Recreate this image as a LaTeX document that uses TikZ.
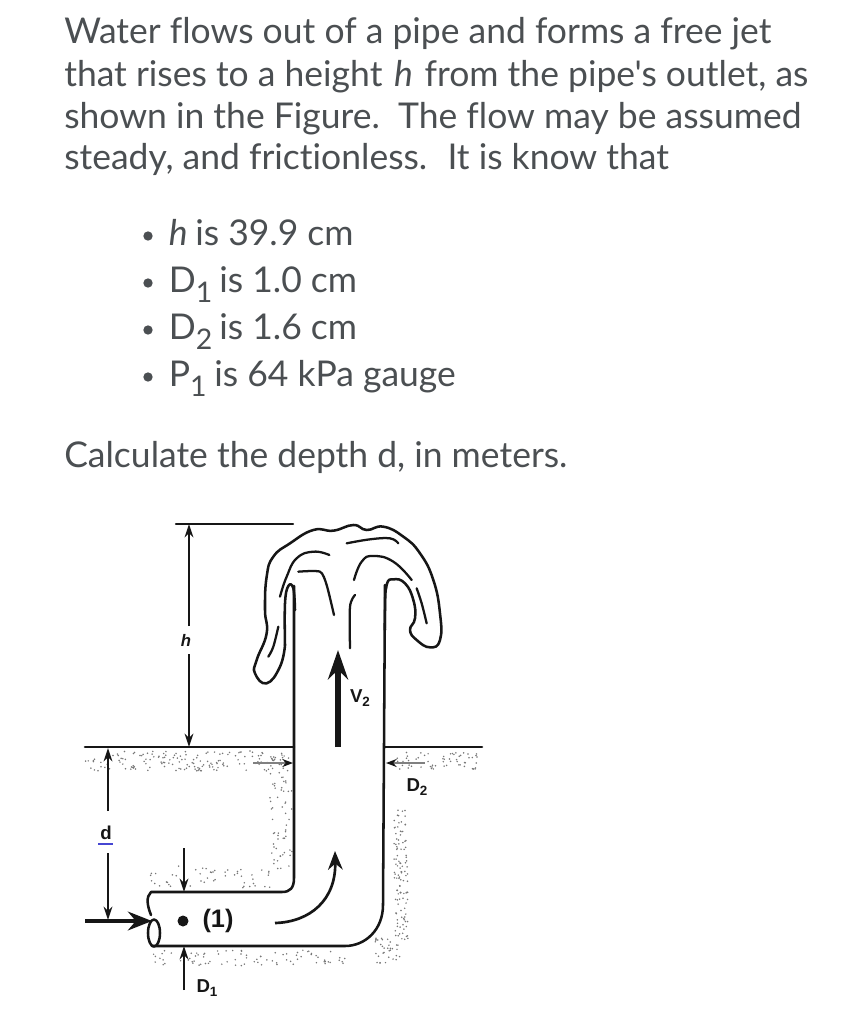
\documentclass[tikz,border=0pt]{standalone}
\usepackage{fontspec}
\setmainfont[Ligatures={NoCommon,TeXOff}]{Lato}
\newfontfamily\lblfont{Liberation Sans}
\usetikzlibrary{arrows.meta}
\definecolor{txt}{HTML}{4B4F52}
\definecolor{ink}{HTML}{161616}
\definecolor{dotc}{HTML}{777777}
\newcommand{\lowsub}[1]{\raisebox{-0.3em}{\scalebox{0.8}{#1}}}
\newcommand{\lblsub}[1]{\kern-0.3pt\raisebox{-0.22em}{\scalebox{0.72}{#1}}}
\tikzset{
  body/.style={anchor=base west,inner sep=0pt,text=txt,font=\fontsize{26.62pt}{30pt}\selectfont},
  bull/.style={circle,fill=txt,inner sep=0pt,minimum size=7pt},
  wall/.style={draw=ink,line width=1.9pt,line join=round,line cap=round},
  thin wall/.style={draw=ink,line width=1.7pt,line join=round,line cap=round},
  dim/.style={draw=ink,line width=1.4pt,-{Stealth[length=10pt,width=6.5pt]}},
  graydim/.style={draw=gray,line width=1.6pt,-{Stealth[length=8pt,width=6pt,color=ink]}},
  lbl/.style={font=\lblfont\bfseries\fontsize{14pt}{16pt}\selectfont,text=ink,inner sep=0pt},
}
\newcommand{\speckle}[5]{% x0 y0 w h n
  \foreach \i in {1,...,#5}{
    \pgfmathsetmacro{\px}{#1+rnd*#3}
    \pgfmathsetmacro{\py}{#2+rnd*#4}
    \fill[dotc] (\px,\py) circle[radius=0.85];
  }}
\begin{document}
\begin{tikzpicture}[x=0.75pt,y=-0.75pt]
\fill[white] (0,0) rectangle (848,1024);
\useasboundingbox (0,0) rectangle (848,1024);
% question text
\node[body] (l1) at (64,44) {Water flows out of a pipe and forms a free jet};
\node[body] (l2) at (64,86) {that rises to a height\kern2pt\ \textit{h}\kern2pt\ from the pipe's outlet, as};
\node[body] (l3) at (64,128) {shown in the Figure.\ \ The flow may be assumed};
\node[body] (l4) at (64,169) {steady, and frictionless.\ \ \kern1.5pt It is know that};
\node[bull] (b1) at (148,236) {};
\node[bull] (b2) at (148,283) {};
\node[bull] (b3) at (148,330) {};
\node[bull] (b4) at (148,377) {};
\node[body] (i1) at (168.5,245) {\textit{h}\kern-1pt\ is 39.9 cm};
\node[body] (i2) at (168.5,292) {D\lowsub{1}\kern-1.5pt\ is 1.0 cm};
\node[body] (i3) at (168.5,339) {D\lowsub{2}\kern-1.5pt\ is 1.6 cm};
\node[body] (i4) at (168.5,386) {P\lowsub{1}\kern-1pt\ is 64 kPa gauge};
\node[body] (q) at (64,467) {Calculate the depth d, in meters.};
% speckle
\pgfmathsetseed{4217}
\speckle{85}{751}{205}{20}{170}
\speckle{390}{751}{92}{18}{60}
\speckle{270}{770}{22}{100}{55}
\speckle{150}{866}{140}{22}{50}
\speckle{150}{950}{195}{16}{85}
\speckle{394}{810}{14}{130}{110}
\speckle{375}{935}{25}{30}{35}
% ground
\coordinate (gl) at (85,747);
\coordinate (glr) at (294,747);
\coordinate (grl) at (385,747);
\coordinate (gr) at (482,747);
\draw[wall] (gl) -- (glr);
\draw[wall] (grl) -- (gr);
% pipe
\draw[wall] (294,586) -- (294,878) .. controls (294,888) and (290,892) .. (282,892) -- (151,892) .. controls (146,897) and (147,905) .. (151,915);
\draw[wall] (385,585) -- (383,905) .. controls (383,930) and (365,946) .. (345,946) -- (152,946);
\draw[wall] (154,933) ellipse[x radius=6,y radius=13.5];
% jet (zoom coordinates)
\begin{scope}[shift={(230,510)},x=0.25pt,y=-0.25pt]
\draw[wall] plot[smooth,tension=0.8] coordinates {(165,405)(150,470)(110,520)(75,490)(80,450)(110,370)(105,300)(110,200)(130,140)(180,100)(250,60)(310,62)(370,45)(410,60)(460,50)(520,80)(570,130)(610,210)(630,310)(630,390)(600,412)(560,390)(540,360)(555,325)(550,270)(525,220)(490,208)(470,225)(465,300)(465,360)};
\draw[wall] plot[smooth,tension=0.7] coordinates {(165,405)(165,280)(175,228)(190,235)(195,300)};
\draw[thin wall] plot[smooth,tension=0.8] coordinates {(150,260)(170,200)(200,145)(250,125)(298,135)};
\draw[thin wall] plot[smooth,tension=0.4] coordinates {(205,185)(270,185)(290,225)(312,315)};
\draw[thin wall] plot[smooth,tension=0.7] coordinates {(350,100)(420,88)(480,85)(505,100)};
\draw[thin wall] plot[smooth,tension=0.8] coordinates {(372,210)(395,155)(430,138)(490,155)(545,210)};
\draw[thin wall] plot[smooth,tension=0.5] coordinates {(375,255)(360,290)(360,415)};
\draw[thin wall] plot[smooth,tension=0.6] coordinates {(560,235)(575,280)(590,340)};
\draw[thin wall] plot[smooth,tension=0.6] coordinates {(145,350)(130,410)(115,440)};
\end{scope}
% h dimension
\coordinate (ht) at (189,524);
\coordinate (htr) at (293,524);
\coordinate (hb) at (189,747);
\node[inner sep=0pt,font=\lblfont\itshape\bfseries\fontsize{12.5pt}{14pt}\selectfont,text=ink] (hl) at (186,640) {h};
\draw[thin wall] (176,524) -- (htr);
\draw[dim] (189,626) -- (ht);
\draw[dim] (189,654) -- (hb);
% d dimension
\node[lbl] (dl) at (106,833) {d};
\draw[draw={rgb,255:red,70;green,70;blue,210},line width=1.1pt] (98,844) -- (113,844);
\draw[dim] (108,811) -- (108,748);
\draw[dim] (108,853) -- (108,920);
% inlet
\draw[draw=ink,line width=3.2pt,-{Stealth[length=18pt,width=14pt]}] (85,921) -- (152,921);
% D1
\node[lbl] (d1) at (207,988) {D\lblsub{1}};
\draw[dim] (184,848) -- (184,892);
\draw[dim] (184,990) -- (184,946);
% point 1
\fill[ink] (183,921) circle[radius=5.5];
\node[lbl,font=\lblfont\bfseries\fontsize{19pt}{20pt}\selectfont] (p1) at (218,921) {(1)};
% flow curve
\draw[draw=ink,line width=2pt,-{Stealth[length=14pt,width=11pt]}] (275,923) .. controls (310,922) and (336,900) .. (335,851);
% V2
\draw[draw=ink,line width=4pt,-{Stealth[length=22pt,width=15pt]}] (338,747) -- (338,650);
\node[lbl] (v2) at (360,698) {V\lblsub{2}};
% D2
\draw[graydim] (253,763) -- (293,763);
\draw[graydim] (425,763) -- (386,763);
\node[lbl] (d2) at (417,787) {D\lblsub{2}};
\end{tikzpicture}
\end{document}
